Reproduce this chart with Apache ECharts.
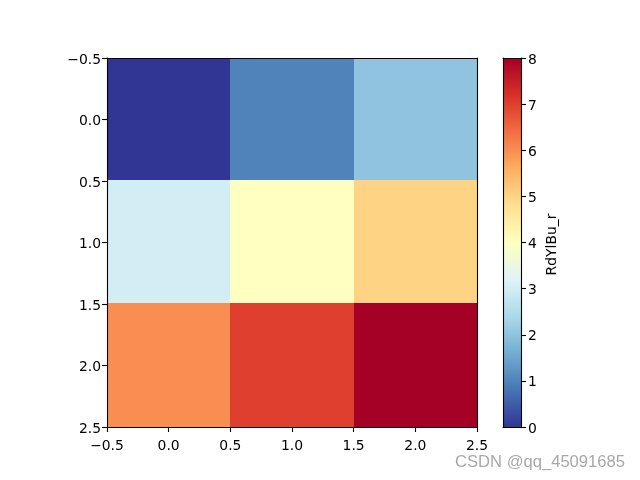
<!DOCTYPE html>
<html>
<head>
<meta charset="utf-8">
<style>html,body{margin:0;padding:0;background:#fff}#c{width:640px;height:480px}</style>
<script src="https://cdn.jsdelivr.net/npm/echarts@6/dist/echarts.min.js"></script>
</head>
<body>
<div id="c"></div>
<script>
const rowValues0 = [0, 1, 2];
const rowValues1 = [3, 4, 5];
const rowValues2 = [6, 7, 8];
const rows = [rowValues0, rowValues1, rowValues2];
const palette = ['#313695','#4575b4','#74add1','#abd9e9','#e0f3f8','#ffffbf','#fee090','#fdae61','#f46d43','#d73027','#a50026'];
const colorbarLabel = 'RdYlBu_r';
const watermark = 'CSDN @qq_45091685';
const FONT = 'DejaVu Sans';

const cells = [];
rows.forEach((r, y) => r.forEach((v, x) => cells.push([x, y, v])));

const fmt = v => Number(v).toFixed(1).replace('-', '\u2212');
const line = {show: true, onZero: false, lineStyle: {color: '#000', width: 1.1}};
const tick = {show: true, length: 5, lineStyle: {color: '#000', width: 1.1}};
const label = {color: '#000', fontFamily: FONT, fontSize: 13.9, hideOverlap: false, showMinLabel: true, showMaxLabel: true};
const mainExtent = {type: 'value', min: -0.5, max: 2.5, interval: 0.5, splitLine: {show: false}, z: 5};

const chart = echarts.init(document.getElementById('c'), null, {renderer: 'canvas'});
chart.setOption({
  animation: false,
  backgroundColor: '#fff',
  grid: [
    {left: 107, top: 58, width: 370, height: 369},
    {left: 503, top: 58, width: 18, height: 369}
  ],
  xAxis: [
    {...mainExtent, gridIndex: 0, position: 'bottom', axisLine: line, axisTick: tick, axisLabel: {...label, margin: 12, formatter: fmt}},
    {...mainExtent, gridIndex: 0, position: 'top', axisLine: line, axisTick: {show: false}, axisLabel: {show: false}},
    {type: 'value', gridIndex: 1, min: 0, max: 1, position: 'bottom', axisLine: line, axisTick: {show: false}, axisLabel: {show: false}, splitLine: {show: false}, z: 5},
    {type: 'value', gridIndex: 1, min: 0, max: 1, position: 'top', axisLine: line, axisTick: {show: false}, axisLabel: {show: false}, splitLine: {show: false}, z: 5}
  ],
  yAxis: [
    {...mainExtent, gridIndex: 0, inverse: true, position: 'left', axisLine: line, axisTick: tick, axisLabel: {...label, margin: 6, verticalAlign: 'top', lineHeight: 4, formatter: fmt}},
    {...mainExtent, gridIndex: 0, inverse: true, position: 'right', axisLine: line, axisTick: {show: false}, axisLabel: {show: false}},
    {type: 'value', gridIndex: 1, min: 0, max: 8, interval: 1, position: 'right', axisLine: line, axisTick: tick,
      axisLabel: {...label, margin: 7, verticalAlign: 'top', lineHeight: 4}, splitLine: {show: false}, z: 5,
      name: colorbarLabel, nameLocation: 'middle', nameGap: 24, nameRotate: 90,
      nameTextStyle: {color: '#000', fontFamily: FONT, fontSize: 13.9, padding: [0, 4, 0, 0]}},
    {type: 'value', gridIndex: 1, min: 0, max: 8, interval: 1, position: 'left', axisLine: line, axisTick: {show: false}, axisLabel: {show: false}, splitLine: {show: false}, z: 5}
  ],
  visualMap: {show: false, type: 'continuous', min: 0, max: 8, dimension: 2, seriesIndex: 0, inRange: {color: palette}},
  series: [
    {
      type: 'custom', xAxisIndex: 0, yAxisIndex: 0, data: cells, clip: true,
      encode: {x: 0, y: 1},
      renderItem(params, api) {
        const a = api.coord([api.value(0) - 0.5, api.value(1) - 0.5]);
        const b = api.coord([api.value(0) + 0.5, api.value(1) + 0.5]);
        const x0 = Math.round(a[0]), x1 = Math.round(b[0]);
        const y0 = Math.ceil(a[1] - 1), y1 = api.value(1) === 2 ? Math.round(b[1]) : Math.ceil(b[1] - 1);
        return {type: 'rect', shape: {x: x0, y: y0, width: x1 - x0, height: y1 - y0},
          style: {fill: api.visual('color'), stroke: null}};
      }
    },
    {
      type: 'custom', xAxisIndex: 2, yAxisIndex: 2, data: [[0, 8, 1, 0]],
      renderItem(params, api) {
        const a = api.coord([api.value(0), api.value(1)]);
        const b = api.coord([api.value(2), api.value(3)]);
        return {type: 'rect', shape: {x: a[0], y: a[1], width: b[0] - a[0], height: b[1] - a[1]},
          style: {fill: new echarts.graphic.LinearGradient(0, 1, 0, 0,
            palette.map((c, i) => ({offset: i / (palette.length - 1), color: c})))}};
      }
    }
  ],
  graphic: [{
    type: 'text', left: 455, top: 454, z: 10, silent: true,
    style: {text: watermark, fill: 'rgba(120,120,120,0.65)', font: '16.6px "Liberation Sans"'}
  }]
});
</script>
</body>
</html>
